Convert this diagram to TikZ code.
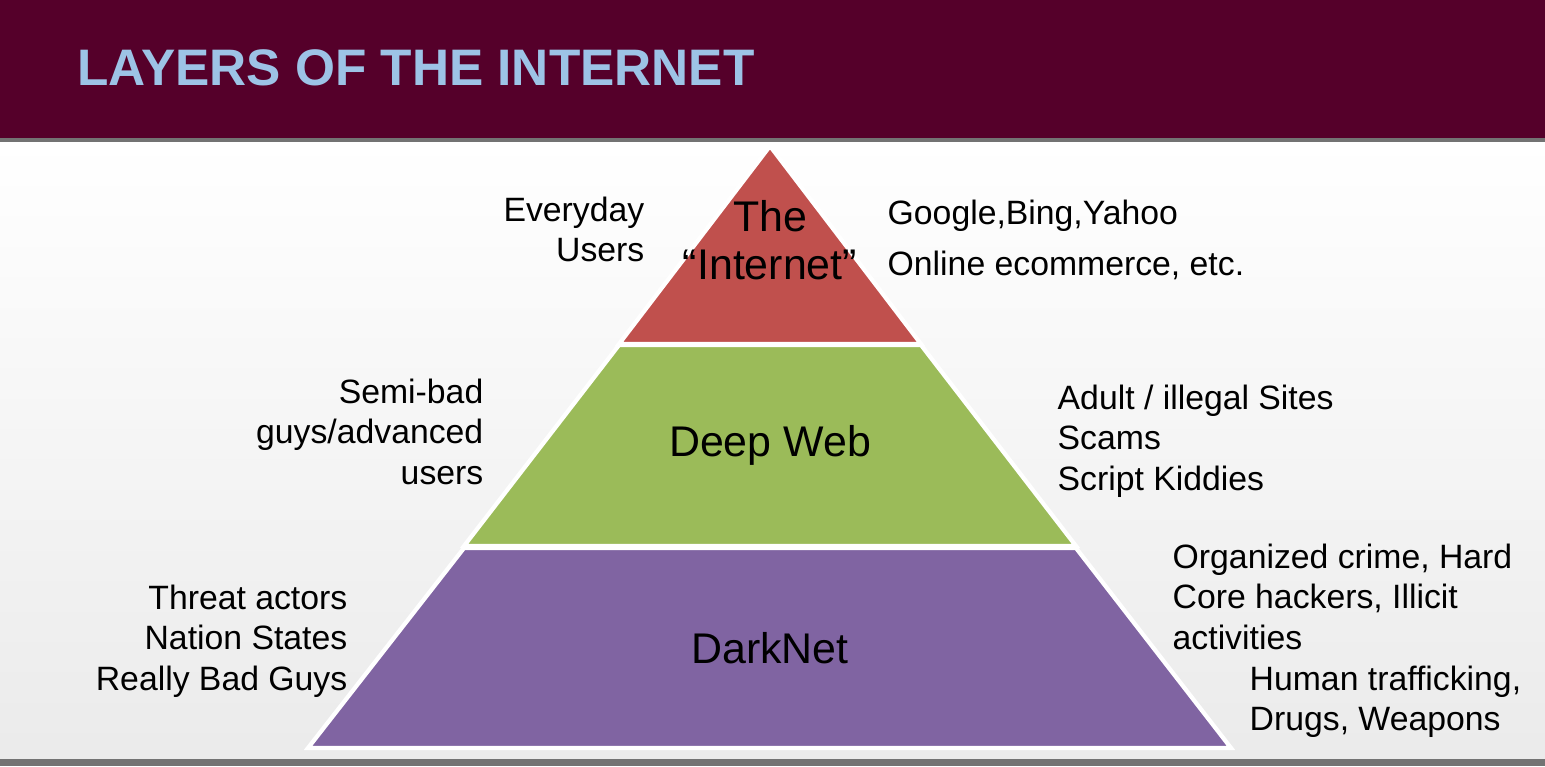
\documentclass[tikz,border=0pt]{standalone}
\usepackage{fontspec}
\setmainfont{Liberation Sans}
\usetikzlibrary{positioning}
\definecolor{maroon}{HTML}{55002A}
\definecolor{titleblue}{HTML}{9DC3E6}
\definecolor{tierred}{HTML}{C0504D}
\definecolor{tiergreen}{HTML}{9BBB59}
\definecolor{tierpurple}{HTML}{8064A2}
\begin{document}
\begin{tikzpicture}[x=0.01cm,y=-0.01cm,
		tier/.style = {draw=white,line width=1.2pt},
		side/.style = {font=\fontsize{9.6pt}{11.5pt}\selectfont,inner sep=0pt},
		tierlabel/.style = {font=\fontsize{12.2pt}{13.8pt}\selectfont,align=center}]
	\useasboundingbox (0,0) rectangle (1545,766);
	% background and header
	\shade[top color=white,bottom color=black!8] (0,140) rectangle (1545,760);
	\fill[maroon] (0,0) rectangle (1545,138);
	\fill[black!55] (0,138) rectangle (1545,142);
	\fill[black!55] (0,759) rectangle (1545,766);
	\node[anchor=west,text=titleblue,font=\fontsize{14.6pt}{17pt}\selectfont\bfseries] (title) at (65,68) {LAYERS OF THE INTERNET};
	% pyramid
	\fill[tierred,tier] (770,146) -- (921,344) -- (619,344) -- cycle;
	\fill[tiergreen,tier] (619,345) -- (921,345) -- (1076,546) -- (464,546) -- cycle;
	\fill[tierpurple,tier] (464,548) -- (1076,548) -- (1231,748) -- (308,748) -- cycle;
	\node[tierlabel] (internet) at (770,240) {The\\``Internet''};
	\node[tierlabel] (deep) at (770,445) {Deep Web};
	\node[tierlabel] (dark) at (770,648) {DarkNet};
	% left texts
	\node[side,align=right,anchor=north east] (users) at (645,196) {Everyday\\Users};
	\node[side,align=right,anchor=north east] (semi) at (484,378) {Semi-bad\\guys/advanced\\users};
	\node[side,align=right,anchor=north east] (threat) at (348,584) {Threat actors\\Nation States\\Really Bad Guys};
	% right texts
	\node[side,align=left,anchor=north west] (google) at (887,199) {Google,Bing,Yahoo};
	\node[side,align=left,anchor=north west] (online) at (887,250) {Online ecommerce, etc.};
	\node[side,align=left,anchor=north west] (adult) at (1057,384) {Adult / illegal Sites\\Scams\\Script Kiddies};
	\node[side,align=left,anchor=north west] (crime) at (1172,543) {Organized crime, Hard\\Core hackers, Illicit\\activities};
	\node[side,align=left,anchor=north west] (human) at (1249,665) {Human trafficking,\\Drugs, Weapons};
\end{tikzpicture}
\end{document}
